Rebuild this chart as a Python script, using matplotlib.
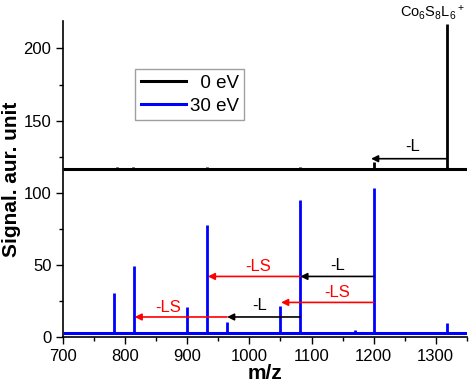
import matplotlib
matplotlib.use("Agg")
import matplotlib.pyplot as plt
from matplotlib.ticker import MultipleLocator

plt.rcParams['font.family'] = ['Liberation Sans', 'DejaVu Sans']
plt.rcParams['mathtext.fontset'] = 'custom'
plt.rcParams['mathtext.rm'] = 'Liberation Sans'
plt.rcParams['mathtext.it'] = 'Liberation Sans:italic'
plt.rcParams['mathtext.bf'] = 'Liberation Sans:bold'

# ---- data ----
x_range = [700, 1350]
base_0ev = 116.7
mz_0ev = [786, 812, 931, 1081, 1200, 1318]
h_0ev = [1.0, 1.0, 1.0, 1.0, 4.5, 100.0]

base_30ev = 2.8
mz_30ev = [782, 814, 900, 932, 964, 1050, 1082, 1170, 1200, 1318]
y_30ev = [30.3, 49.3, 21.0, 77.8, 10.6, 21.5, 95.0, 4.9, 103.0, 9.9]

series_labels = ['\u20070 eV', '30 eV']

# arrows: (start, end, y, color)
arrows = [
    (1318, 1196, 123.6, 'black'),
    (1201, 1082, 42.0, 'black'),
    (1082, 933, 42.0, 'red'),
    (1200, 1051, 24.0, 'red'),
    (1082, 964, 13.9, 'black'),
    (964, 815, 13.9, 'red'),
]
labels = [
    (1263, 132.0, '-L', 'black'),
    (1142, 49.5, '-L', 'black'),
    (1014, 49.0, '-LS', 'red'),
    (1141, 30.8, '-LS', 'red'),
    (1017, 22.0, '-L', 'black'),
    (869, 20.6, '-LS', 'red'),
]

fig = plt.figure(figsize=(4.74, 3.83), dpi=100)
ax = fig.add_axes([0.1335, 0.120, 0.851, 0.825])

# 0 eV spectrum
ax.hlines(base_0ev, x_range[0], x_range[1], color='black', lw=2.2, zorder=3)
ax.vlines(mz_0ev, base_0ev, [base_0ev + h for h in h_0ev], color='black', lw=2.0, zorder=3)
# 30 eV spectrum
ax.hlines(base_30ev, x_range[0], x_range[1], color='#0000ff', lw=2.2, zorder=3)
ax.vlines(mz_30ev, base_30ev, y_30ev, color='#0000ff', lw=2.0, zorder=3)

# legend handles
ax.plot([], [], color='black', lw=2.2, label=series_labels[0])
ax.plot([], [], color='#0000ff', lw=2.2, label=series_labels[1])
leg = ax.legend(loc='upper left', bbox_to_anchor=(0.179, 0.848), borderaxespad=0,
                fontsize=13.5, frameon=True, fancybox=False, edgecolor='#888888',
                handlelength=2.4, handletextpad=0.2, borderpad=0.3, labelspacing=0.3)
leg.get_frame().set_linewidth(1.0)

for x0, x1, y, c in arrows:
    ax.annotate('', xy=(x1, y), xytext=(x0, y),
                arrowprops=dict(arrowstyle='-|>', color=c, lw=1.2,
                                mutation_scale=10, shrinkA=0, shrinkB=0), zorder=4)
for x, y, s, c in labels:
    ax.text(x, y, s, color=c, fontsize=12, ha='center', va='center')

ax.text(1295, 225, r'Co$_6$S$_8$L$_6$$^+$', fontsize=10.5, ha='center', va='center',
        clip_on=False)

ax.set_xlim(x_range)
ax.set_ylim(0, 219)
ax.xaxis.set_major_locator(MultipleLocator(100))
ax.xaxis.set_minor_locator(MultipleLocator(50))
ax.yaxis.set_major_locator(MultipleLocator(50))
ax.yaxis.set_minor_locator(MultipleLocator(25))
ax.tick_params(axis='both', which='major', direction='out', length=5, width=1, labelsize=12)
ax.tick_params(axis='both', which='minor', direction='out', length=3, width=1)
ax.spines['top'].set_visible(False)
ax.spines['right'].set_visible(False)
ax.spines['left'].set_linewidth(1.2)
ax.spines['bottom'].set_linewidth(1.2)

ax.set_xlabel('m/z', fontsize=15, fontweight='bold', labelpad=0)
ax.set_ylabel('Signal. aur. unit', fontsize=15, fontweight='bold', labelpad=2)

fig.savefig('out.png', dpi=100)
